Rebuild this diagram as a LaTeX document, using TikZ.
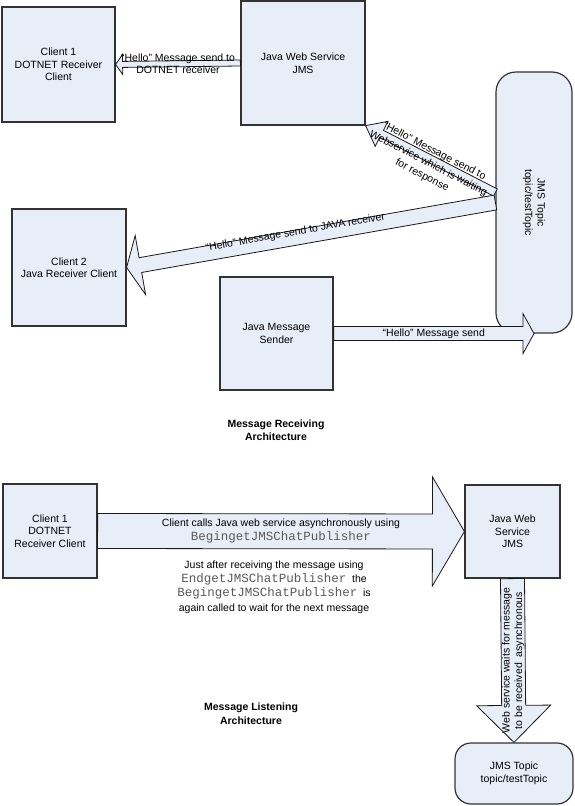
\documentclass[tikz,border=0pt]{standalone}
\usepackage{fontspec}
\setmainfont{Liberation Sans}
\newfontfamily\codefont{Liberation Mono}
\usetikzlibrary{calc}
\definecolor{azul}{RGB}{232,238,248}
\newcommand{\codigo}{\codefont\fontsize{12.5}{14}\selectfont\color{black!65}}

\begin{document}
\begin{tikzpicture}[x=1pt,y=-1pt]
% Estilos
\tikzset{caixa/.style={rectangle,draw=black!80,line width=1.2pt,fill=azul,align=center,inner sep=1pt,font=\fontsize{10.5}{12.5}\selectfont},
seta bloco/.style={draw=black!90,line width=.8pt,fill=azul,line join=miter},
rotulo/.style={align=center,inner sep=0pt,font=\fontsize{10.5}{12.5}\selectfont},
titulo/.style={align=center,font=\bfseries\fontsize{10.5}{13.5}\selectfont}}

\fill[white] (0,0) rectangle (574,806);

% Caixas
\node[caixa,minimum width=113pt,minimum height=115pt] (c1) at (58.5,64.5) {Client 1\\DOTNET Receiver\\Client};
\node[caixa,minimum width=124pt,minimum height=124pt] (jws) at (303,63) {Java Web Service\\JMS};
\node[caixa,rounded corners=20pt,minimum width=76pt,minimum height=261pt] (topic) at (534,202.5) {};
\node[rotulo,rotate=-90] (topictxt) at (topic) {JMS Topic\\topic/testTopic};
\node[caixa,minimum width=114pt,minimum height=117pt] (c2) at (69,267.5) {Client 2\\Java Receiver Client};
\node[caixa,minimum width=113pt,minimum height=113pt] (snd) at (276.5,333.5) {Java Message\\Sender};
\node[titulo] (tit1) at (276,430) {Message Receiving\\Architecture};

\node[caixa,minimum width=94pt,minimum height=94pt] (c3) at (50,531) {Client 1\\DOTNET\\Receiver Client};
\node[caixa,minimum width=95pt,minimum height=93pt] (w2) at (512.5,531.5) {Java Web\\Service\\JMS};
\node[caixa,rounded corners=16pt,minimum width=118pt,minimum height=61pt] (t2) at (514,773.5) {JMS Topic\\topic/testTopic};
\node[titulo] (tit2) at (251,713.5) {Message Listening\\Architecture};

\coordinate (d1) at ([yshift=10pt]topic.west);

% Setas
\foreach \de/\para/\haste/\ponta/\comp in {jws.west/c1.east/3pt/10pt/7pt, d1/jws.south east/4pt/14pt/18pt, topic.west/c2.east/7.5pt/30pt/14pt, snd.east/topic.south/7pt/20pt/11pt, c3.east/w2.west/17.5pt/54.5pt/32pt, w2.south/t2.north/12pt/37pt/37pt}{
    \coordinate (base) at ($(\para)!\comp!(\de)$);
    \draw[seta bloco] ($(\de)!\haste!90:(\para)$) -- ($(base)!\haste!90:(\para)$) -- ($(base)!\ponta!90:(\para)$) -- (\para) -- ($(base)!\ponta!-90:(\para)$) -- ($(base)!\haste!-90:(\para)$) -- ($(\de)!\haste!-90:(\para)$) -- cycle;
}

% Textos das setas
\path (jws.west) -- (c1.east) node[rotulo,midway] (l1) {“Hello” Message send to\\DOTNET receiver};
\path (d1) -- (jws.south east) node[rotulo,midway,sloped,yshift=-5pt,font=\fontsize{10.5}{13.5}\selectfont] (l2) {“Hello” Message send to\\Webservice which is waiting\\for response};
\path (topic.west) -- (c2.east) node[rotulo,pos=.54,sloped,yshift=5pt] (l3) {“Hello” Message send to JAVA receiver};
\path (snd.east) -- (topic.south) node[rotulo,midway] (l4) {“Hello” Message send};
\path (c3.east) -- (w2.west) node[rotulo,midway,font=\fontsize{10.5}{14}\selectfont] (l5) {Client calls Java web service asynchronously using\\{\codigo BegingetJMSChatPublisher}};
\path (w2.south) -- (t2.north) node[rotulo,midway,rotate=90] (l6) {Web service waits for message\\to be received\ \ asynchronous};
\node[rotulo,font=\fontsize{10.5}{14.3}\selectfont] (nota) at (274,587) {Just after receiving the message using\\{\codigo EndgetJMSChatPublisher}\ \ the\\{\codigo BegingetJMSChatPublisher}\ \ is\\again called to wait for the next message};

\end{tikzpicture}
\end{document}
